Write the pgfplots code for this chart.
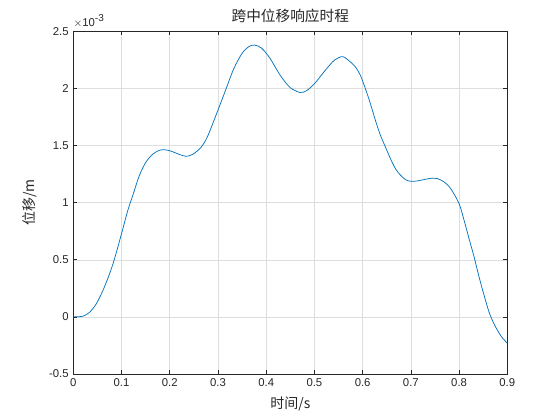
\documentclass[border=0pt]{standalone}
\usepackage{pgfplots}
\pgfplotsset{compat=1.18}
\usepackage{fontspec}
\setmainfont{Liberation Sans}
\newfontfamily\cjk{Noto Sans CJK SC}
\definecolor{mline}{rgb}{0,0.447,0.741}
\definecolor{mgrid}{rgb}{0.87,0.87,0.87}
\definecolor{maxis}{rgb}{0.15,0.15,0.15}
\begin{document}
\begin{tikzpicture}[x=0.75pt,y=0.75pt]
\path[use as bounding box] (0,0) rectangle (560,420);
\begin{axis}[
  at={(73.3pt*0.75,46pt*0.75)}, anchor=south west,
  scale only axis, width=325.5pt, height=257pt,
  xmin=0, xmax=0.9, ymin=-0.5, ymax=2.5,
  xtick={0,0.1,...,0.9}, ytick={-0.5,0,0.5,1,1.5,2,2.5},
  xticklabels={0,0.1,0.2,0.3,0.4,0.5,0.6,0.7,0.8,0.9},
  yticklabels={-0.5,0,0.5,1,1.5,2,2.5},
  grid=major, major grid style={mgrid, line width=0.4pt},
  axis line style={maxis, line width=0.45pt},
  tick style={maxis, line width=0.45pt},
  major tick length=3pt, tick align=inside,
  ticklabel style={font=\fontsize{8.5}{10}\selectfont, text=maxis},
  title={\cjk 跨中位移响应时程}, title style={font=\fontsize{11}{13}\selectfont, text=maxis, yshift=-3pt},
  xlabel={\cjk 时间/s}, ylabel={\cjk 位移/m},
  label style={font=\fontsize{10.5}{12}\selectfont, text=maxis},
  xlabel style={yshift=-1pt}, ylabel style={yshift=2pt},
  clip mode=individual,
]
\addplot[mline, line width=0.55pt, smooth, tension=0.5] coordinates {
(0,0.00) (0.02,0.006) (0.0338,0.041) (0.0476,0.114) (0.0614,0.231) (0.0752,0.377)
(0.0855,0.509) (0.1,0.728) (0.1131,0.933) (0.1234,1.064) (0.1372,1.24) (0.151,1.357)
(0.1648,1.424) (0.178,1.458) (0.19,1.463) (0.2034,1.45) (0.2207,1.421) (0.2345,1.406) (0.248,1.424)
(0.2644,1.482) (0.278,1.576) (0.2986,1.795) (0.3158,1.985) (0.333,2.175) (0.35,2.307)
(0.3637,2.365) (0.376,2.38) (0.391,2.351) (0.408,2.263) (0.4288,2.117) (0.4493,2.009)
(0.4699,1.965) (0.4836,1.98) (0.5007,2.044) (0.5212,2.152) (0.5418,2.249) (0.5589,2.278)
(0.574,2.234) (0.5847,2.19) (0.5951,2.117) (0.6056,2.0) (0.616,1.868) (0.6264,1.722)
(0.6368,1.591) (0.6472,1.488) (0.6576,1.386) (0.668,1.298) (0.6785,1.24) (0.6889,1.202)
(0.6993,1.187) (0.713,1.19) (0.7306,1.205) (0.745,1.215) (0.7549,1.211) (0.7688,1.182)
(0.7826,1.123) (0.8,0.991) (0.8104,0.845) (0.8208,0.683) (0.8313,0.522) (0.8417,0.346)
(0.8521,0.185) (0.8625,0.038) (0.8729,-0.065) (0.8868,-0.167) (0.9,-0.23)
};
\node[anchor=south west, inner sep=0pt, font=\fontsize{8.5}{10}\selectfont, text=maxis] at (rel axis cs:0,1) [yshift=2.5pt] {$\times$10\raisebox{0.45em}{\fontsize{7.5}{9}\selectfont -3}};
\end{axis}
\end{tikzpicture}
\end{document}
